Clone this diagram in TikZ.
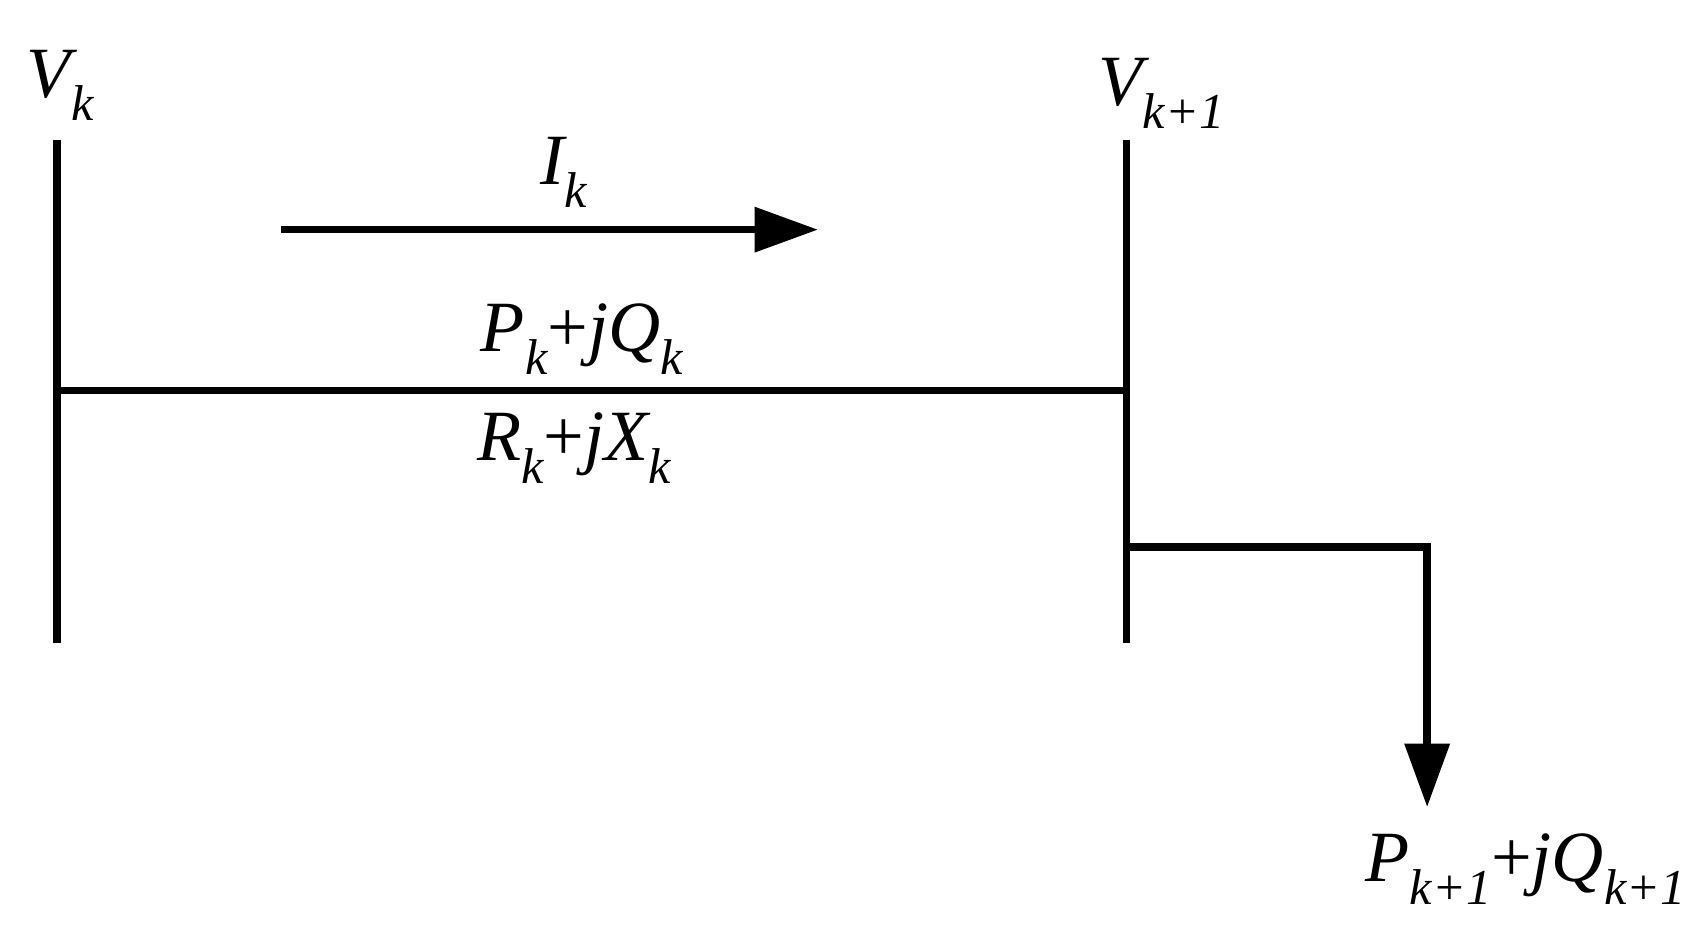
\documentclass[tikz,border=0pt]{standalone}
\usepackage{fontspec}
\setmainfont{Liberation Serif}[ItalicFont={Liberation Serif Italic},UprightFont={Liberation Serif}]
\usetikzlibrary{arrows.meta}
\newcommand{\sbs}[1]{\raisebox{-0.32em}{\fontsize{46}{46}\selectfont\itshape #1}}
\begin{document}
\begin{tikzpicture}[x=1pt,y=-1pt,
  wire/.style={line width=7pt},
  arr/.style={line width=7pt,-{Triangle[length=58pt,width=40pt]}},
  lbl/.style={font=\fontsize{66}{66}\selectfont\itshape, inner sep=0pt}]
\useasboundingbox (0,0) rectangle (1560,852);
\coordinate (a1) at (52,128); \coordinate (a2) at (52,588);
\coordinate (b1) at (1030,128); \coordinate (b2) at (1030,588);
\coordinate (la) at (52,357); \coordinate (lb) at (1030,357);
\coordinate (c1) at (1030,500); \coordinate (c2) at (1305,500); \coordinate (c3) at (1305,738);
\coordinate (i1) at (257,210); \coordinate (i2) at (748,210);
\draw[wire] (a1) -- (a2);
\draw[wire] (b1) -- (b2);
\draw[wire] (la) -- (lb);
\draw[arr] (c1) -- (c2) -- (c3);
\draw[arr] (i1) -- (i2);
\node[lbl] (vk) at (55,78) {V\sbs{k}};
\node[lbl] (vk1) at (1062,85) {V\sbs{k+1}};
\node[lbl] (ik) at (515,158) {I\sbs{k}};
\node[lbl] (pq) at (532,310) {P\sbs{k}\upshape+\itshape jQ\sbs{k}};
\node[lbl] (rx) at (525,410) {R\sbs{k}\upshape+\itshape jX\sbs{k}};
\node[lbl] (pq1) at (1395,795) {P\sbs{k+1}\upshape+\itshape jQ\sbs{k+1}};
\end{tikzpicture}
\end{document}
